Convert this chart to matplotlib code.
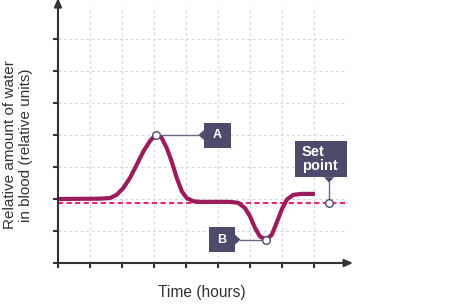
import matplotlib
matplotlib.use('Agg')
import matplotlib.pyplot as plt
from matplotlib.patches import Rectangle, Polygon
from matplotlib.transforms import Affine2D

plt.rcParams['font.family'] = ['Liberation Sans', 'DejaVu Sans']

# water level in blood over time
time_h = [0, 1.31, 1.63, 1.83, 2.04, 2.25, 2.46, 2.67, 2.88, 3.06, 3.24, 3.40, 3.55,
          3.71, 3.87, 4.02, 4.23, 4.44, 5.38, 5.63, 5.84, 6.0, 6.16, 6.31, 6.5, 6.68,
          6.83, 6.99, 7.15, 7.35, 7.62, 8.03]
water = [2.0, 2.01, 2.03, 2.13, 2.34, 2.66, 3.07, 3.49, 3.82, 4.01, 3.91, 3.59, 3.18,
         2.66, 2.24, 2.03, 1.93, 1.91, 1.91, 1.88, 1.72, 1.46, 1.09, 0.83, 0.73, 0.88,
         1.25, 1.67, 1.98, 2.13, 2.16, 2.16]
set_point = 1.87
set_x = [0, 9]

point_a = (3.06, 4.0)
point_b = (6.5, 0.73)
point_set = (8.47, set_point)

curve_col = '#9b1b5b'
pink = '#e8237b'
box_col = '#4d4b6c'
link_col = '#6b6a82'
axis_col = '#333333'

fig = plt.figure(figsize=(4.64, 3.04), dpi=100)
ax = fig.add_axes([58 / 464, 41 / 304, 288 / 464, 256 / 304])
ax.set_xlim(0, 9)
ax.set_ylim(0, 8)

# grid
for gx in range(1, 9):
    ax.axvline(gx, color='#d6d4e6', lw=0.8, dashes=(2.5, 2.5), zorder=0)
for gy in range(1, 8):
    ax.axhline(gy, color='#d6d4e6', lw=0.8, dashes=(2.5, 2.5), zorder=0)

for s in ['top', 'right']:
    ax.spines[s].set_visible(False)
for s in ['left', 'bottom']:
    ax.spines[s].set_color(axis_col)
    ax.spines[s].set_linewidth(1.5)
    ax.spines[s].set_zorder(5)
ax.set_xticks(range(0, 9))
ax.set_yticks(range(0, 8))
ax.tick_params(length=3.5, width=1.5, color=axis_col, direction='out',
               labelbottom=False, labelleft=False)

# axis arrows
arrow = dict(arrowstyle='-|>,head_length=0.5,head_width=0.22', color=axis_col, lw=1.5,
             shrinkA=0, shrinkB=0)
ax.annotate('', xy=(0, 8.28), xytext=(0, 7.9), annotation_clip=False, arrowprops=arrow)
ax.annotate('', xy=(9.22, 0), xytext=(8.9, 0), annotation_clip=False, arrowprops=arrow)

# set point line and curve
ax.plot(set_x, [set_point, set_point], color=pink, lw=1.5, dashes=(2.5, 1.6), zorder=2)
ax.plot(time_h, water, color=curve_col, lw=3, solid_capstyle='butt',
        solid_joinstyle='round', zorder=3)


def callout(pt, label, box, tip, link, text_xy, fs, ha='center'):
    # box / tip / link are pixel offsets from the marked point (y up)
    base = Affine2D().translate(*ax.transData.transform(pt))
    x0, y0, w, h = box
    ax.add_patch(Rectangle((x0, y0), w, h, transform=base, fc=box_col, ec='none',
                           clip_on=False, zorder=6))
    ax.add_patch(Polygon(tip, closed=True, transform=base, fc=box_col, ec='none',
                         clip_on=False, zorder=6))
    ax.plot(*zip(*link), color=link_col, lw=1, transform=base, clip_on=False, zorder=6)
    ax.text(*text_xy, label, transform=base, ha=ha, va='center', color='white',
            fontsize=fs, fontweight='bold', linespacing=1.0, zorder=7)
    ax.plot(*pt, marker='o', ms=5.5, mfc='white', mec=box_col, mew=1, zorder=8,
            clip_on=False)


callout(point_a, 'A', (48, -13, 27, 25), [(48, -5), (48, 5), (42.5, 0)],
        [(3, 0), (43, 0)], (61.5, -0.5), 9)
callout(point_b, 'B', (-57, -12.5, 26, 25), [(-31, -5), (-31, 5), (-25.5, 0)],
        [(-26, 0), (-3, 0)], (-44, 0), 9)
callout(point_set, 'Set\npoint', (-34.5, 26, 52.5, 36), [(-5, 26), (5, 26), (0, 20.5)],
        [(0, 21), (0, 3)], (-27, 44), 10.5, ha='left')

fig.text(158 / 464, 12 / 304, 'Time (hours)', ha='left', va='center', fontsize=11.2,
         color=axis_col)
fig.text(18 / 464, (304 - 145) / 304, 'Relative amount of water\nin blood (relative units)',
         rotation=90, ha='center', va='center', fontsize=11, color=axis_col,
         multialignment='center', linespacing=1.1)

fig.savefig('out.png', dpi=100)
